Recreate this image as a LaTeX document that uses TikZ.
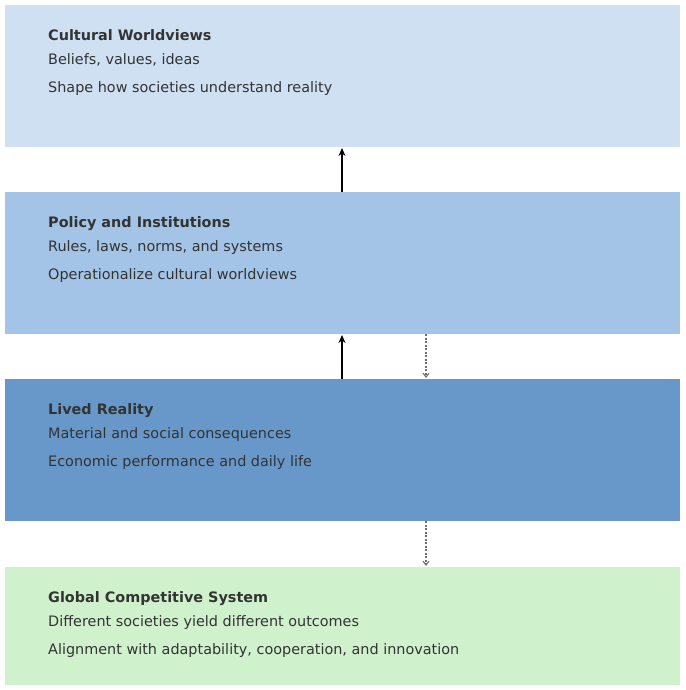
\documentclass[tikz,border=0pt]{standalone}
\usepackage{fontspec}
\setmainfont{DejaVu Sans}
\usetikzlibrary{arrows.meta}
\definecolor{cA}{HTML}{CFE0F3}
\definecolor{cB}{HTML}{A3C4E6}
\definecolor{cC}{HTML}{6898CA}
\definecolor{cD}{HTML}{CFF2CD}
\definecolor{txt}{HTML}{333333}
\definecolor{dotg}{HTML}{707070}
\begin{document}
\begin{tikzpicture}[x=1pt,y=-1pt,
  layer/.style={draw=none,inner sep=0pt,anchor=north west},
  ttl/.style={anchor=base west,inner sep=0pt,text=txt,font=\fontsize{14.4}{17}\selectfont\bfseries},
  sub/.style={anchor=base west,inner sep=0pt,text=txt,font=\fontsize{14.4}{17}\selectfont},
  solidarr/.style={-{Stealth[length=8pt,width=7pt]},line width=1.5pt,black},
  dotarr/.style={-{Straight Barb[length=4pt,width=6pt]},dash pattern=on 2pt off 1.5pt,line width=1.1pt,dotg}]
\useasboundingbox (0,0) rectangle (685,690);
\node[layer,fill=cA,minimum width=675pt,minimum height=142pt] (b1) at (5,5) {};
\node[layer,fill=cB,minimum width=675pt,minimum height=142pt] (b2) at (5,192) {};
\node[layer,fill=cC,minimum width=675pt,minimum height=142pt] (b3) at (5,379) {};
\node[layer,fill=cD,minimum width=675pt,minimum height=118pt] (b4) at (5,567) {};

\node[ttl] (t1) at (48,40.7) {Cultural Worldviews};
\node[sub] (s1a) at (48,64.2) {Beliefs, values, ideas};
\node[sub] (s1b) at (48,92.2) {Shape how societies understand reality};

\node[ttl] (t2) at (48,227.7) {Policy and Institutions};
\node[sub] (s2a) at (48,251.2) {Rules, laws, norms, and systems};
\node[sub] (s2b) at (48,279.2) {Operationalize cultural worldviews};

\node[ttl] (t3) at (48,414.7) {Lived Reality};
\node[sub] (s3a) at (48,438.2) {Material and social consequences};
\node[sub] (s3b) at (48,466.2) {Economic performance and daily life};

\node[ttl] (t4) at (48,602.5) {Global Competitive System};
\node[sub] (s4a) at (48,626) {Different societies yield different outcomes};
\node[sub] (s4b) at (48,654) {Alignment with adaptability, cooperation, and innovation};

\coordinate (a1s) at (342,192);
\coordinate (a1e) at (342,148);
\coordinate (a2s) at (342,379);
\coordinate (a2e) at (342,335);
\coordinate (d1s) at (426,334);
\coordinate (d1e) at (426,378);
\coordinate (d2s) at (426,521);
\coordinate (d2e) at (426,566);
\draw[solidarr] (a1s) -- (a1e);
\draw[solidarr] (a2s) -- (a2e);
\draw[dotarr] (d1s) -- (d1e);
\draw[dotarr] (d2s) -- (d2e);
\end{tikzpicture}
\end{document}
